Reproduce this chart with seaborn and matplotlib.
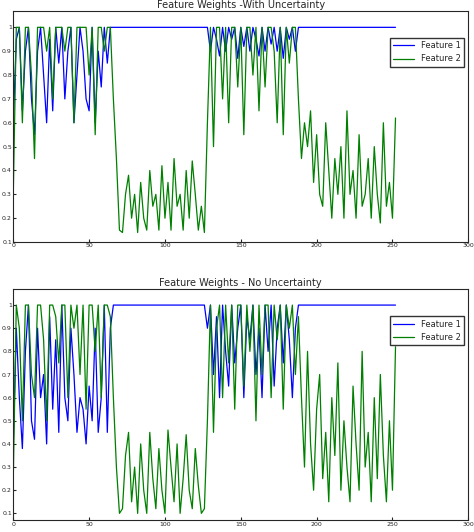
import numpy as np
import pandas as pd
import matplotlib
matplotlib.use("Agg")
import matplotlib.pyplot as plt
import seaborn as sns

sns.set_style("ticks", {"xtick.direction": "in", "ytick.direction": "in"})
plt.rcParams['font.family'] = ['DejaVu Sans']

x = list(range(0, 254, 2))

top_green = [0.3,1,1,0.6,1,1,0.8,0.45,1,1,1,0.9,1,0.7,1,1,1,0.9,1,1,0.6,1,1,1,1,0.8,1,0.55,1,1,0.9,1,1,
             0.7,0.45,0.15,0.14,0.3,0.38,0.2,0.3,0.14,0.35,0.2,0.15,0.4,0.25,0.3,0.15,0.42,0.2,0.35,0.15,0.45,0.25,0.3,0.15,0.4,0.2,0.44,0.3,0.15,0.25,0.14,
             0.6,1,0.5,1,1,0.7,1,0.6,1,1,0.75,1,0.55,1,1,0.8,1,0.65,1,0.75,1,1,0.9,0.6,1,0.55,1,0.85,1,1,0.7,
             0.45,0.6,0.5,0.65,0.35,0.55,0.3,0.25,0.6,0.4,0.2,0.45,0.3,0.5,0.2,0.65,0.3,0.4,0.2,0.55,0.25,0.3,0.45,0.2,0.5,0.3,0.18,0.6,0.25,0.35,0.2,0.62]
top_blue = [0.6,0.95,1,0.65,0.9,1,0.7,0.55,0.9,1,0.8,0.6,0.95,0.65,1,0.85,1,0.7,0.9,1,0.6,0.8,1,0.9,0.7,0.65,1,0.6,0.9,0.75,1,0.85,1] + [1]*31 + \
           [1,0.9,1,0.95,0.88,1,0.9,1,0.95,1,0.87,1,0.92,1,0.9,1,0.95,0.88,1,0.9,1,0.93,1,0.9,1,0.87,1,0.95,1,0.9,1] + [1]*32
bot_green = [0.25,1,0.9,0.5,1,1,0.7,0.6,1,1,0.85,0.5,1,1,0.95,0.75,1,1,0.6,1,0.9,1,0.7,1,0.55,1,1,0.8,1,0.6,1,1,0.95,
             0.6,0.3,0.1,0.12,0.35,0.45,0.15,0.3,0.1,0.4,0.2,0.1,0.45,0.25,0.12,0.38,0.2,0.1,0.46,0.3,0.15,0.4,0.1,0.25,0.44,0.2,0.12,0.38,0.22,0.1,0.12,
             0.5,1,0.45,0.9,1,0.6,1,0.75,1,0.55,1,1,0.65,1,0.8,1,0.5,1,0.7,1,1,0.6,1,0.85,1,0.55,1,0.9,1,0.7,0.95,
             0.6,0.3,0.8,0.4,0.2,0.55,0.7,0.25,0.45,0.15,0.6,0.35,0.75,0.2,0.5,0.3,0.15,0.65,0.4,0.2,0.8,0.3,0.45,0.15,0.6,0.25,0.7,0.35,0.15,0.5,0.2,0.82]
bot_blue = [0.4,0.9,0.6,0.38,0.8,1,0.5,0.42,0.9,0.6,0.7,0.4,0.95,0.55,0.85,0.45,1,0.6,0.5,0.9,0.7,0.45,0.6,0.55,0.4,0.65,0.5,0.9,0.45,0.6,1,0.45,0.9] + [1]*31 + \
           [0.9,1,0.7,0.95,0.6,1,0.8,0.65,1,0.75,0.9,1,0.6,0.95,0.85,1,0.7,0.9,0.6,1,0.8,1,0.65,0.9,1,0.75,1,0.85,0.6,0.9,1] + [1]*32

titles = ["Feature Weights -With Uncertainty", "Feature Weights - No Uncertainty"]
labels = ["Feature 1", "Feature 2"]
xticks = [0, 50, 100, 150, 200, 250, 300]
yticks = [0.1, 0.2, 0.3, 0.4, 0.5, 0.6, 0.7, 0.8, 0.9, 1]

fig = plt.figure(figsize=(4.74, 5.32), dpi=100)
axes = [fig.add_axes([0.028, 0.545, 0.96, 0.435]), fig.add_axes([0.028, 0.022, 0.96, 0.435])]
data = [(top_blue, top_green, (0.1, 1.07)), (bot_blue, bot_green, (0.07, 1.07))]

for ax, (b, g, yl), t in zip(axes, data, titles):
    df = pd.DataFrame({"x": x * 2, "y": b + g, "s": [labels[0]] * len(x) + [labels[1]] * len(x)})
    sns.lineplot(data=df, x="x", y="y", hue="s", palette=["#0000ff", "#008000"], lw=0.9, ax=ax)
    ax.set_xlim(0, 300); ax.set_ylim(*yl)
    ax.set_xticks(xticks); ax.set_yticks(yticks)
    ax.set_yticklabels([f"{v:g}" for v in yticks])
    ax.tick_params(labelsize=4.5, pad=1, length=2)
    ax.set_xlabel(""); ax.set_ylabel("")
    ax.set_title(t, fontsize=7, pad=2)
    ax.legend(loc="upper right", bbox_to_anchor=(1.0, 0.9), fontsize=6, frameon=True,
              fancybox=False, edgecolor="black", handlelength=2.5)

fig.savefig("out.png", dpi=100)
